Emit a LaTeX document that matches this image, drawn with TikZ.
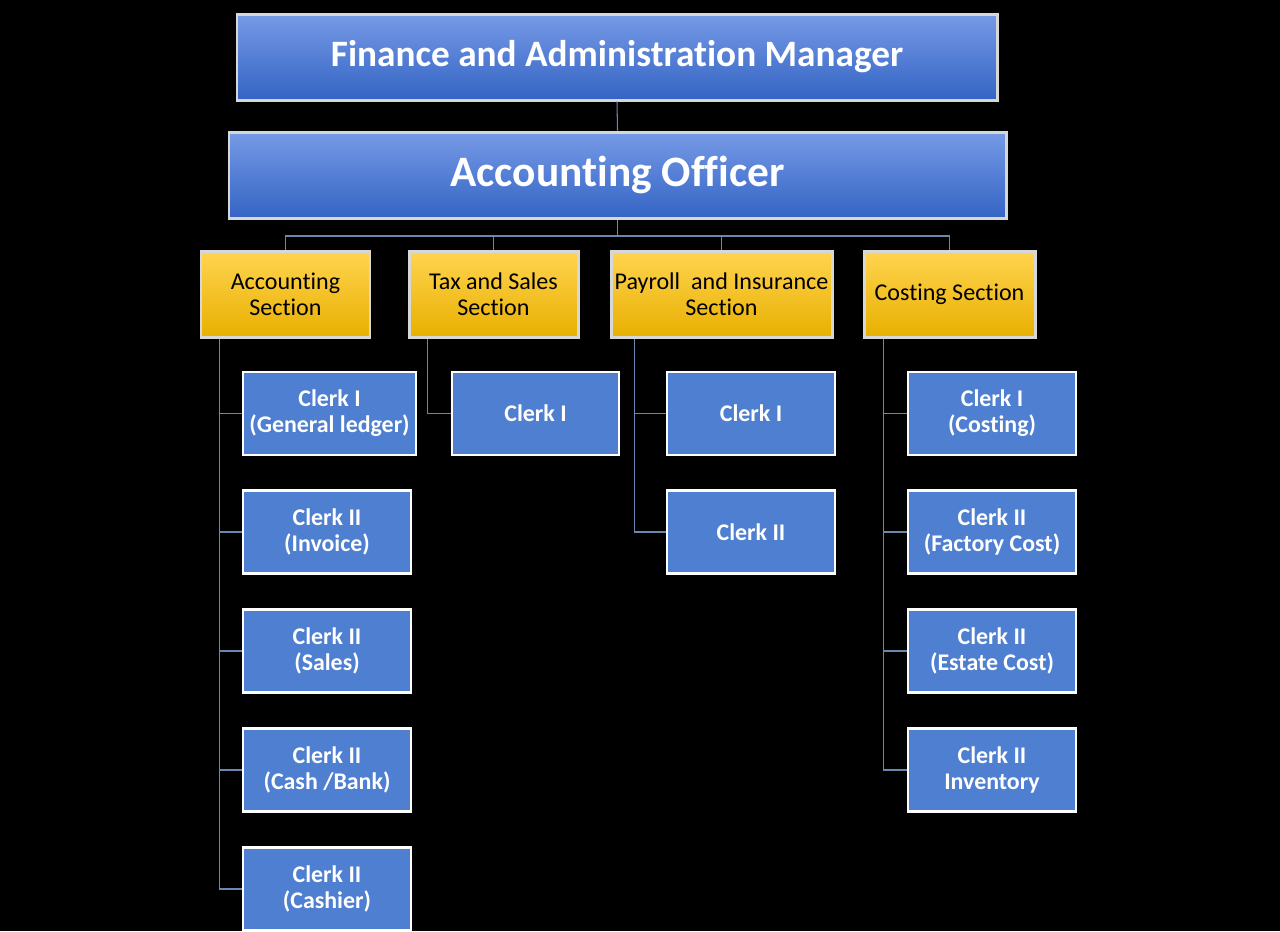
\documentclass[tikz,border=0pt]{standalone}
\usepackage{fontspec}
\setmainfont[Ligatures=NoCommon]{Carlito}
\definecolor{boxblue}{RGB}{79,127,208}
\definecolor{topblue}{RGB}{118,154,230}
\definecolor{lowblue}{RGB}{52,100,196}
\definecolor{topgold}{RGB}{255,212,80}
\definecolor{lowgold}{RGB}{232,176,0}
\definecolor{rim}{RGB}{215,215,215}
\definecolor{linkcol}{RGB}{105,135,175}
\begin{document}
\begin{tikzpicture}[x=.02cm, y=-.02cm,
  mgrbox/.style={draw=rim, line width=1.7pt, top color=topblue, bottom color=lowblue,
    text=white, font=\bfseries, minimum height=86*.02cm, inner sep=0pt},
  secbox/.style={draw=rim, line width=1.7pt, top color=topgold, bottom color=lowgold,
    text=black, font=\fontsize{13.7}{14.7}\selectfont, align=center,
    minimum height=86*.02cm, inner sep=0pt},
  clerkbox/.style={draw=white, line width=1.2pt, fill=boxblue, text=white,
    font=\fontsize{13.6}{14.7}\selectfont\bfseries, align=center,
    minimum width=168*.02cm, minimum height=83*.02cm, inner sep=0pt},
  link/.style={draw=linkcol, line width=.6pt}]

\useasboundingbox[fill=black] (0,0) rectangle (1280,931);

% top of the chart
\node[mgrbox, minimum width=760*.02cm, font=\fontsize{21.2}{25}\selectfont\bfseries] (fam) at (617,57) {Finance and Administration Manager};
\node[mgrbox, minimum width=777*.02cm, font=\fontsize{24.7}{29}\selectfont\bfseries] (ao) at (617.5,175) {Accounting Officer};

% sections
\node[secbox, minimum width=169*.02cm] (acc) at (285.5,294) {Accounting\\Section};
\node[secbox, minimum width=169*.02cm] (tax) at (493.5,294) {Tax and Sales\\Section};
\node[secbox, minimum width=221*.02cm] (pay) at (721.5,294) {Payroll\ \ and Insurance\\Section};
\node[secbox, minimum width=171*.02cm] (cost) at (949.5,294) {Costing Section};

% clerks
\node[clerkbox, minimum width=173*.02cm] (a1) at (329.5,413.5) {Clerk I\\(General ledger)};
\node[clerkbox] (a2) at (327,532) {Clerk II\\(Invoice)};
\node[clerkbox] (a3) at (327,651) {Clerk II\\(Sales)};
\node[clerkbox] (a4) at (327,770) {Clerk II\\(Cash /Bank)};
\node[clerkbox] (a5) at (327,889) {Clerk II\\(Cashier)};

\node[clerkbox, minimum width=167*.02cm] (t1) at (535.5,413.5) {Clerk I};

\node[clerkbox] (p1) at (751,413.5) {Clerk I};
\node[clerkbox] (p2) at (751,532) {Clerk II};

\node[clerkbox] (c1) at (992,413.5) {Clerk I\\(Costing)};
\node[clerkbox] (c2) at (992,532) {Clerk II\\(Factory Cost)};
\node[clerkbox] (c3) at (992,651) {Clerk II\\(Estate Cost)};
\node[clerkbox] (c4) at (992,770) {Clerk II\\Inventory};

% connectors
\draw[link] (fam.south) -- (ao.north);
\coordinate (bus) at (617.5,236);
\draw[link] (ao.south) -- (bus);
\foreach \s in {acc,tax,pay,cost}
  \draw[link] (bus) -| (\s.north);

\foreach \c in {a1,a2,a3,a4,a5}
  \draw[link] (acc.south west) ++(20,0) |- (\c.west);
\draw[link] (tax.south west) ++(20,0) |- (t1.west);
\foreach \c in {p1,p2}
  \draw[link] (pay.south west) ++(25,0) |- (\c.west);
\foreach \c in {c1,c2,c3,c4}
  \draw[link] (cost.south west) ++(21,0) |- (\c.west);

\end{tikzpicture}
\end{document}
